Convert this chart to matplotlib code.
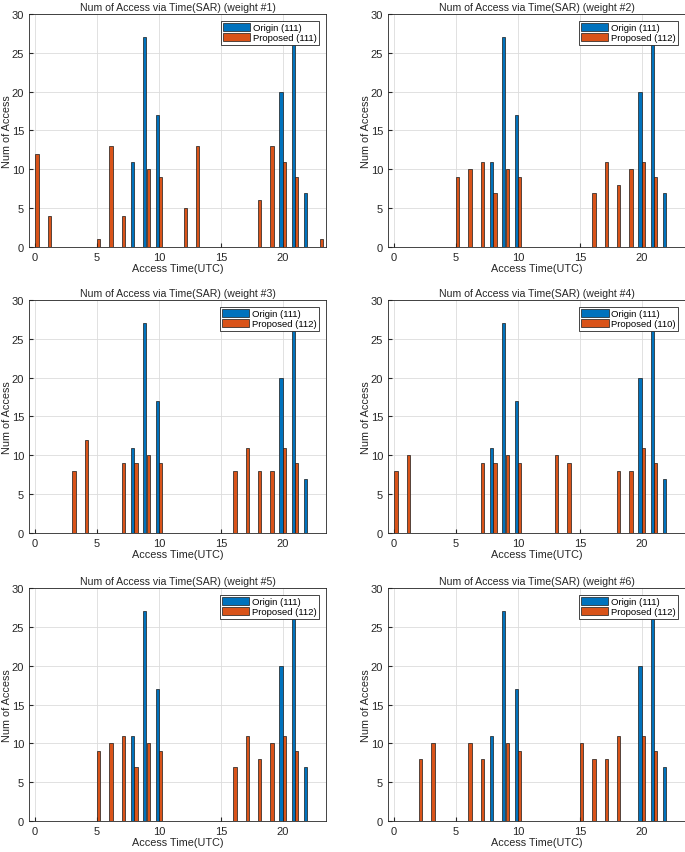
import numpy as np
import matplotlib
matplotlib.use("Agg")
import matplotlib.pyplot as plt

plt.rcParams['font.family'] = ['Liberation Sans', 'DejaVu Sans']

hours = np.arange(24)

# origin counts per hour (same in every panel)
origin = {8: 11, 9: 27, 10: 17, 20: 20, 21: 29, 22: 7}

# proposed counts per hour, one dict per weight
proposed_w1 = {0: 12, 1: 4, 5: 1, 6: 13, 7: 4, 9: 10, 10: 9, 12: 5, 13: 13,
               18: 6, 19: 13, 20: 11, 21: 9, 23: 1}
proposed_w2 = {5: 9, 6: 10, 7: 11, 8: 7, 9: 10, 10: 9, 16: 7, 17: 11, 18: 8,
               19: 10, 20: 11, 21: 9}
proposed_w3 = {3: 8, 4: 12, 7: 9, 8: 9, 9: 10, 10: 9, 16: 8, 17: 11, 18: 8,
               19: 8, 20: 11, 21: 9}
proposed_w4 = {0: 8, 1: 10, 7: 9, 8: 9, 9: 10, 10: 9, 13: 10, 14: 9, 18: 8,
               19: 8, 20: 11, 21: 9}
proposed_w5 = {5: 9, 6: 10, 7: 11, 8: 7, 9: 10, 10: 9, 16: 7, 17: 11, 18: 8,
               19: 10, 20: 11, 21: 9}
proposed_w6 = {2: 8, 3: 10, 6: 10, 7: 8, 9: 10, 10: 9, 15: 10, 16: 8, 17: 8,
               18: 11, 20: 11, 21: 9}

proposed_all = [proposed_w1, proposed_w2, proposed_w3,
                proposed_w4, proposed_w5, proposed_w6]


def to_array(d):
    return np.array([d.get(h, 0) for h in hours])


blue = '#0072BD'
orange = '#D95319'
txt = '#262626'

fig = plt.figure(figsize=(6.85, 8.53), dpi=100)

lefts = [0.0423, 0.5664]
bottoms = [0.7093, 0.3740, 0.0363]
w, h = 0.4336, 0.2732

org = to_array(origin)
for i, prop in enumerate(proposed_all):
    row, col = divmod(i, 2)
    ax = fig.add_axes([lefts[col], bottoms[row], w, h])
    pr = to_array(prop)
    bw = 0.27
    ax.bar(hours - 0.14, org, width=bw, color=blue, edgecolor='#1a1a1a',
           linewidth=0.5, label='Origin (%d)' % org.sum(), zorder=3)
    ax.bar(hours + 0.14, pr, width=bw, color=orange, edgecolor='#1a1a1a',
           linewidth=0.5, label='Proposed (%d)' % pr.sum(), zorder=3)
    ax.set_xlim(-0.5, 23.5)
    ax.set_ylim(0, 30)
    ax.set_xticks([0, 5, 10, 15, 20])
    ax.set_yticks(range(0, 31, 5))
    ax.grid(True, color='#dcdcdc', linewidth=0.6, zorder=0)
    ax.tick_params(direction='in', labelsize=8, colors=txt, length=3)
    for s in ax.spines.values():
        s.set_color(txt)
        s.set_linewidth(0.6)
    ax.set_title('Num of Access via Time(SAR) (weight #%d)' % (i + 1),
                 fontsize=7.6, color=txt, pad=3)
    ax.set_xlabel('Access Time(UTC)', fontsize=7.8, color=txt, labelpad=1)
    ax.set_ylabel('Num of Access', fontsize=7.8, color=txt, va='center')
    ax.yaxis.set_label_coords(-0.075, 0.5)
    leg = ax.legend(loc='upper right', fontsize=6.8, frameon=True, fancybox=False,
                    framealpha=1, edgecolor=txt, handlelength=2.9,
                    handleheight=0.9, borderpad=0.25, labelspacing=0.1,
                    handletextpad=0.3, borderaxespad=0.7)
    leg.get_frame().set_linewidth(0.6)
    leg.set_zorder(5)

fig.savefig('out.png', dpi=100)
